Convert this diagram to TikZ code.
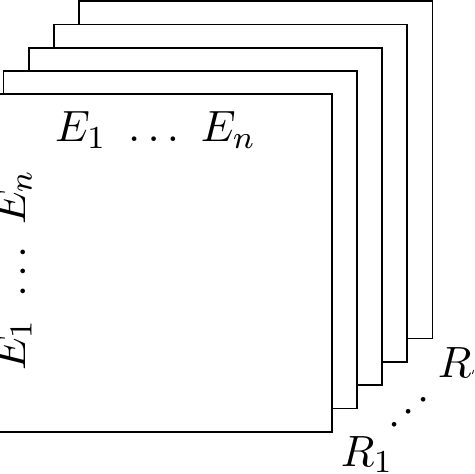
\documentclass[tikz,border=0pt]{standalone}
\begin{document}
\begin{tikzpicture}[x=0.25pt, y=-0.25pt, line width=0.45pt,
    sheet/.style={draw, fill=white},
    lbl/.style={font=\fontsize{11}{13}\selectfont, inner sep=0pt, anchor=base}]
      \useasboundingbox (0, 0) rectangle (474, 474);
      \clip (0, 0) rectangle (474, 474);
      \draw[sheet] (79.1, 1.1) rectangle (432.5, 338.5) node (s5) [pos=.5] {};
      \draw[sheet] (53.9, 24.4) rectangle (407.3, 361.8) node (s4) [pos=.5] {};
      \draw[sheet] (28.7, 47.7) rectangle (382.1, 385.1) node (s3) [pos=.5] {};
      \draw[sheet] (3.5, 71.0) rectangle (356.9, 408.4) node (s2) [pos=.5] {};
      \draw[sheet] (-21.7, 94.3) rectangle (331.7, 431.7) node (s1) [pos=.5] {};
      \node (cols) [lbl] at (155.5, 141.7) {$E_1 \ \dots \ E_n$};
      \node (rows) [lbl, rotate=90] at (25, 270) {$E_1 \ \dots \ E_n$};
      \node (r1) [lbl] at (367, 466) {$R_1$};
      \node (rdots) [lbl, rotate=41, anchor=center] at (409, 412) {$\dots$};
      \node (rn) [lbl, anchor=base west] at (437, 377) {$R_n$};
\end{tikzpicture}
\end{document}
